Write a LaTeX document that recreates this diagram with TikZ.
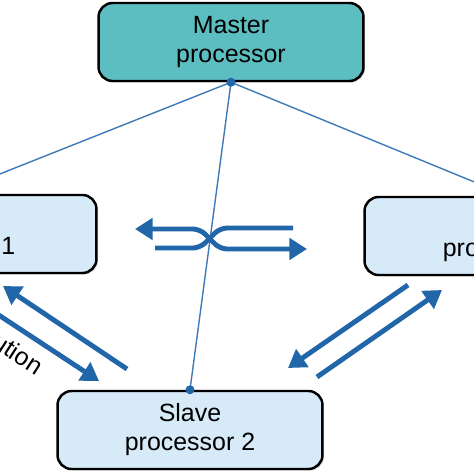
\documentclass[tikz,border=0pt]{standalone}
\usepackage{fontspec}
\setmainfont{Liberation Sans}
\usetikzlibrary{arrows.meta,shadows}

\definecolor{masterteal}{RGB}{92,190,193}
\definecolor{slaveblue}{RGB}{214,234,248}
\definecolor{flowblue}{RGB}{33,102,168}
\definecolor{linkblue}{RGB}{62,122,182}

\tikzset{
    >={Triangle[length=10pt,width=12pt]},
    proc/.style={draw=black, line width=1.4pt, rounded corners=8pt, fill=slaveblue,
        minimum width=5.3cm, minimum height=1.56cm, align=center,
        font=\fontsize{14.2}{16.5}\selectfont,
        drop shadow={shadow xshift=0.9pt, shadow yshift=-0.9pt, fill=black!30}},
    flow/.style={draw=flowblue, line width=2.8pt, ->},
    link/.style={draw=linkblue, line width=0.8pt},
    joint/.style={fill=flowblue}
}

\begin{document}
\begin{tikzpicture}[x=0.02cm, y=-0.02cm]
    \useasboundingbox (0,0) rectangle (474,474);
    \clip (0,0) rectangle (474,474);

    % processors
    \node[proc, fill=masterteal] (master) at (231,42) {Master\\processor};
    \node[proc, minimum width=5.86cm] (slaveone) at (-50,234) {Slave\\processor 1};
    \node[proc, minimum width=5.74cm] (slavethree) at (508,236) {Slave\\processor 3};
    \node[proc] (slavetwo) at (190,430) {Slave\\processor 2};

    % links from the master
    \draw[link] (master.south) -- (slaveone.north);
    \draw[link] (master.south) -- (slavethree.north);
    \draw[link] (master.south) -- (slavetwo.north);
    \fill[joint] (master.south) circle (4.5);
    \fill[joint] (slavetwo.north) circle (4.5);

    % data flow between the slaves
    \coordinate (oneout) at (-15,306);
    \coordinate (onein) at (3,286);
    \coordinate (twoinL) at (99,381);
    \coordinate (twooutL) at (127,369);
    \coordinate (threeout) at (408,285);
    \coordinate (threein) at (442,290);
    \coordinate (twoinR) at (288,368);
    \coordinate (twooutR) at (317,377);

    \draw[flow] (oneout) -- (twoinL);
    \draw[flow] (twooutL) -- (onein);
    \draw[flow] (threeout) -- (twoinR);
    \draw[flow] (twooutR) -- (threein);
    \node[rotate=-33, anchor=base east, font=\fontsize{14.2}{16.5}\selectfont]
        (distlabel) at (41,379) {distribution};

    % exchange between slave 1 and slave 3
    \coordinate (swapleft) at (135,229);
    \coordinate (swapright) at (307,249);
    \draw[flow, <->, rounded corners=4pt] (swapleft) -- (200,229) -- (220,249) -- (swapright);
    \draw[flow, -, rounded corners=4pt] (155,248) -- (200,248) -- (220,228) -- (293,228);

\end{tikzpicture}
\end{document}
